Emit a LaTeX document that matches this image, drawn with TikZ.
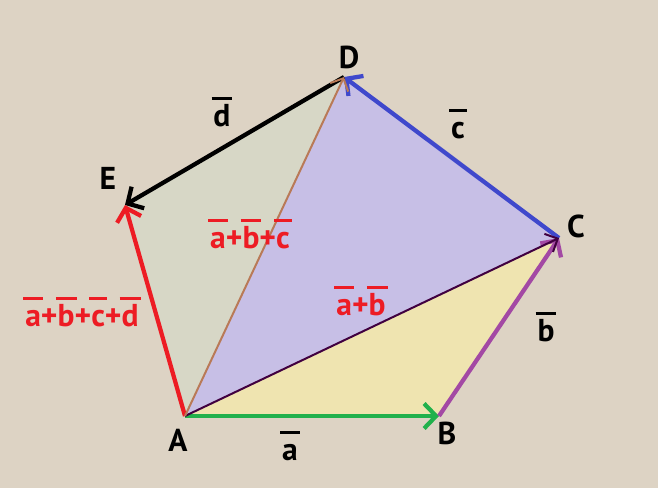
\documentclass[tikz,border=0pt]{standalone}
\usepackage{fontspec}
\setmainfont{PT Sans}
\usetikzlibrary{arrows.meta}
\definecolor{bgc}{RGB}{221,211,196}
\definecolor{yel}{RGB}{239,228,176}
\definecolor{lav}{RGB}{199,191,230}
\definecolor{grey}{RGB}{215,215,198}
\definecolor{vred}{RGB}{237,28,36}
\definecolor{vgreen}{RGB}{34,177,76}
\definecolor{vpurple}{RGB}{163,73,164}
\definecolor{vblue}{RGB}{63,72,204}
\definecolor{vbrown}{RGB}{185,122,87}
\definecolor{vdark}{RGB}{64,0,64}
\newcommand{\vb}[1]{\setbox0\hbox{#1}\rlap{\kern-0.06em\raisebox{0.84em}{\rule{\dimexpr\wd0+0.12em\relax}{0.1em}}}#1}
\begin{document}
\begin{tikzpicture}[x=0.02cm,y=-0.02cm,font=\bfseries\fontsize{18}{21}\selectfont,
    vec/.style={draw, -{Straight Barb[length=2.4mm,width=5mm]}, line width=0.85mm},
    thin vec/.style={draw, -{Straight Barb[length=2mm,width=4mm]}, line width=0.4mm},
    pt/.style={text=black},
    sum/.style={text=vred},
    ]
    \fill [bgc] (0,0) rectangle (658,488);
    \useasboundingbox (0,0) rectangle (658,488);

    % Place points
    \coordinate (A) at (185,416);
    \coordinate (B) at (439,416);
    \coordinate (C) at (559,238);
    \coordinate (D) at (344,77);
    \coordinate (E) at (125,205);

    % Fill triangles
    \fill [yel] (A) -- (B) -- (C) -- cycle;
    \fill [lav] (A) -- (C) -- (D) -- cycle;
    \fill [grey] (A) -- (D) -- (E) -- cycle;

    % Draw vectors
    \path [vec, vgreen] (A) -- (B);
    \path [vec, vpurple] (B) -- (C);
    \path [vec, vblue] (C) -- (D);
    \path [vec, black] (D) -- (E);
    \path [vec, vred] (A) -- (E);
    \path [thin vec, vdark] (A) -- (C);
    \path [thin vec, vbrown] (A) -- (D);

    % Labels
    \node [pt] (lA) at (178,440) {A};
    \node [pt] (lB) at (447,433) {B};
    \node [pt] (lC) at (576,226) {C};
    \node [pt] (lD) at (349,57) {D};
    \node [pt] (lE) at (108,178) {E};
    \node (la) at (290,446) {\vb{a}};
    \node (lb) at (546,327) {\vb{b}};
    \node (lc) at (458,124) {\vb{c}};
    \node (ld) at (222,112) {\vb{d}};
    \node [sum] (sab) at (361,301) {\vb{a}+\vb{b}};
    \node [sum] (sabc) at (250,234) {\vb{a}+\vb{b}+\vb{c}};
    \node [sum] (sabcd) at (82,312) {\vb{a}+\vb{b}+\vb{c}+\vb{d}};
\end{tikzpicture}
\end{document}
